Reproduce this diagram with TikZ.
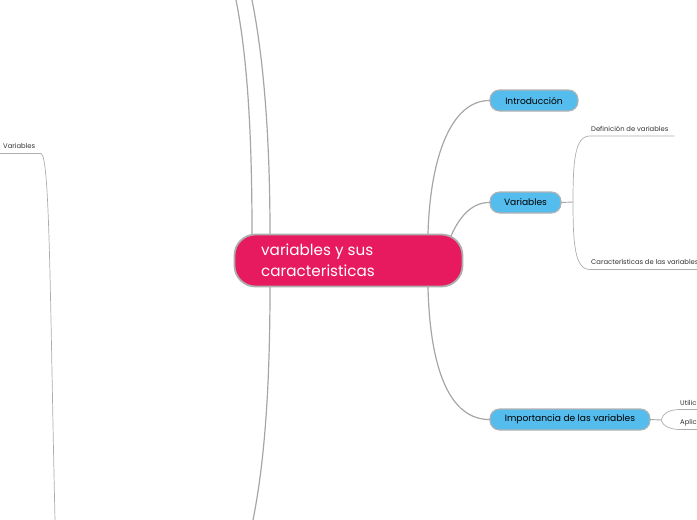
\documentclass[tikz,border=0pt]{standalone}
\usepackage{fontspec}
\setmainfont{Poppins}
\tikzset{
  x=1pt,y=-1pt,
  rootbox/.style={draw=black!32,line width=1.8pt,fill=rootpink,rounded corners=21pt,inner sep=0pt,minimum width=228pt,minimum height=52pt},
  topicbox/.style={draw=black!30,line width=1.1pt,fill=topicblue,rounded corners=9.5pt,inner sep=0pt,minimum height=21pt,font=\fontsize{9.1}{10}\selectfont,text=black},
  leaf/.style={anchor=base west,inner sep=0pt,font=\fontsize{6.8}{8}\selectfont,text=black!80},
  mainlink/.style={draw=black!35,line width=1.2pt},
  sublink/.style={draw=black!35,line width=0.9pt},
  thinlink/.style={draw=black!32,line width=0.7pt}
}
\definecolor{rootpink}{HTML}{E71A60}
\definecolor{topicblue}{HTML}{55BCEE}
\begin{document}
\begin{tikzpicture}
\useasboundingbox (0,0) rectangle (697,520);
\clip (0,0) rectangle (697,520);
% free ends
\coordinate (t1) at (236,0);
\coordinate (t2) at (252,0);
\coordinate (b1) at (253,520);
\coordinate (b2) at (55,520);
\coordinate (lv0) at (0,153.5);
\coordinate (lv1) at (41,153.5);
\coordinate (d0) at (590,136);
\coordinate (d1) at (674,136);
\coordinate (c0) at (590,269.5);
\coordinate (c1) at (697,269.5);
\coordinate (j) at (573,202);
\coordinate (k) at (661,420);
\coordinate (u0) at (680,409.5);
\coordinate (u1) at (697,409.5);
\coordinate (a0) at (680,429.5);
\coordinate (a1) at (697,429.5);
\coordinate (r1) at (252,234);
\coordinate (r2) at (270,234);
\coordinate (r3) at (270,287);
\coordinate (r4) at (428,234);
\coordinate (r5) at (451,236);
\coordinate (r6) at (428,287);
% links
\draw[mainlink] (r1) .. controls (252,140) and (248,60) .. (t1);
\draw[mainlink] (r2) .. controls (270,140) and (264,60) .. (t2);
\draw[mainlink] (r3) .. controls (270,400) and (263,470) .. (b1);
\draw[thinlink] (lv0) -- (lv1) .. controls (50,155) and (50,300) .. (b2);
\draw[mainlink] (r4) .. controls (430,160) and (450,100) .. (490,100.5);
\draw[mainlink] (r5) .. controls (458,220) and (470,202) .. (490,202.5);
\draw[mainlink] (r6) .. controls (430,370) and (450,420) .. (490,419.5);
\draw[sublink] (561,202.5) -- (j);
\draw[thinlink] (j) .. controls (573,160) and (575,136) .. (d0) -- (d1);
\draw[thinlink] (j) .. controls (573,245) and (575,269.5) .. (c0) -- (c1);
\draw[sublink] (650,419.5) -- (k);
\draw[thinlink] (k) .. controls (663,413) and (670,409.5) .. (u0) -- (u1);
\draw[thinlink] (k) .. controls (663,426) and (670,429.5) .. (a0) -- (a1);
% nodes
\node[rootbox] (root) at (348.5,260.5) {};
\node[anchor=base west,inner sep=0pt,text=white,font=\fontsize{15.2}{20}\selectfont] (roott) at (261,255.5) {variables y sus};
\node[anchor=base west,inner sep=0pt,text=white,font=\fontsize{15.2}{20}\selectfont] (rootb) at (261,276) {caracteristicas};
\node[topicbox,minimum width=88pt] (intro) at (534,100.5) {\raisebox{-0.7pt}{Introducción}};
\node[topicbox,minimum width=71pt] (vars) at (525.5,202.5) {\raisebox{-1.2pt}{Variables}};
\node[topicbox,minimum width=160pt] (imp) at (570,419.5) {\raisebox{-1.2pt}{Importancia de las variables}};
\node[leaf] (lv) at (3,148) {Variables};
\node[leaf] (def) at (591,131) {Definición de variables};
\node[leaf] (car) at (591,264) {Características de las variables};
\node[leaf] (uti) at (680,405) {Utilic};
\node[leaf] (apl) at (680,424.5) {Aplic};
\end{tikzpicture}
\end{document}
